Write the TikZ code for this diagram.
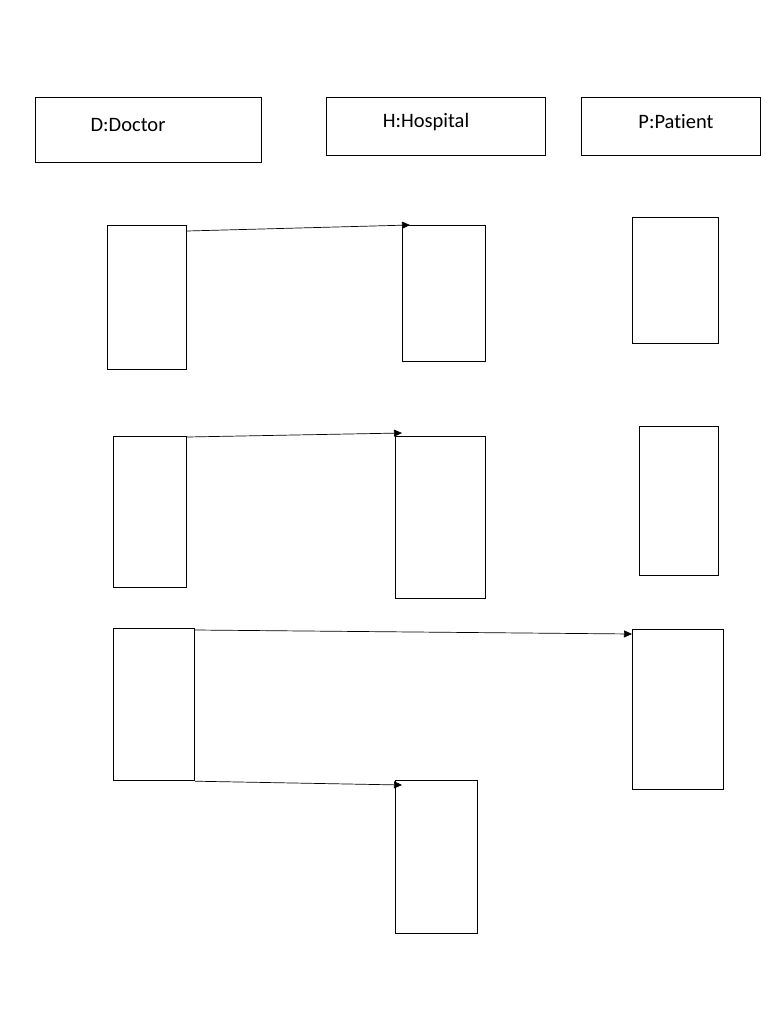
\documentclass[tikz,border=0pt]{standalone}
\usepackage{fontspec}
\setmainfont{Carlito}[Ligatures=CommonOff]
\usetikzlibrary{arrows.meta,calc}
\tikzset{
  bar/.style={draw, line width=1.2pt, inner sep=0pt, anchor=north west},
  msg/.style={line width=0.7pt, -{Triangle[length=8pt,width=7pt]}},
  lbl/.style={font=\fontsize{20.5}{24}\selectfont, inner sep=0pt}
}
\newcommand{\myBar}[5]{
\node[bar, minimum width=#4pt, minimum height=#5pt] (#1) at (#2,#3) {};
}

\begin{document}
\begin{tikzpicture}[x=1pt,y=-1pt]
	\useasboundingbox (0,0) rectangle (768,1024);
	% lifeline heads
	\myBar{doc}{35}{97}{226}{65}
	\myBar{hos}{326}{97}{219}{58}
	\myBar{pat}{581}{97}{179}{58}
	\node[lbl] (docL) at (128,125) {D:Doctor};
	\node[lbl] (hosL) at (426,122) {H:Hospital};
	\node[lbl] (patL) at (676,122) {P:Patient};

	% activations
	\myBar{d1}{107}{225}{79}{144}
	\myBar{h1}{402}{225}{83}{136}
	\myBar{p1}{632}{217}{86}{126}
	\myBar{d2}{113}{436}{73}{151}
	\myBar{h2}{395}{436}{90}{162}
	\myBar{p2}{639}{426}{79}{149}
	\myBar{d3}{113}{628}{81}{152}
	\myBar{p3}{632}{629}{91}{160}
	\myBar{h3}{395}{780}{82}{153}

	% messages
	\draw[msg] ($(d1.north east)+(0,6)$) -- ($(h1.north west)+(8,0)$);
	\draw[msg] ($(d2.north east)+(0,1)$) -- ($(h2.north west)+(7,-3)$);
	\draw[msg] ($(d3.north east)+(0,2)$) -- ($(p3.north west)+(0,5)$);
	\draw[msg] (d3.south east) -- ($(h3.north west)+(7,5)$);
\end{tikzpicture}
\end{document}
